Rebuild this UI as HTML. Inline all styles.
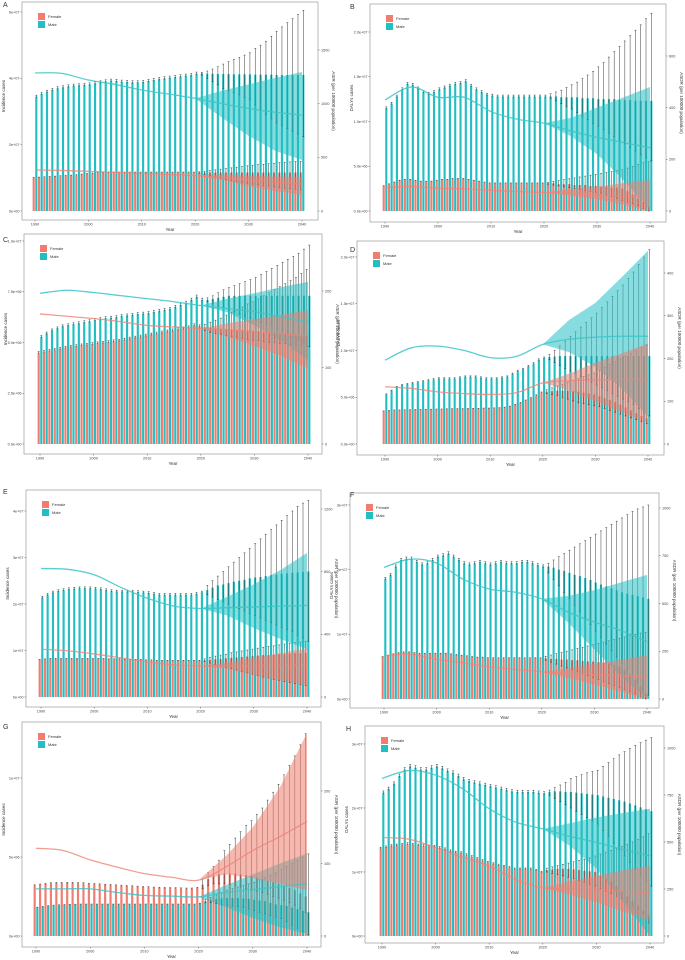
<!DOCTYPE html>
<html><head><meta charset="utf-8">
<style>
html,body{margin:0;padding:0;background:#fff;}
svg{display:block;font-family:"Liberation Sans",sans-serif;}
</style></head>
<body>
<svg id="fig" width="685" height="960" viewBox="0 0 685 960"></svg>
<script>
// ---------- categories ----------
const years = Array.from({length:51},(_, i)=>1990+i);
const xTickLabels = [1990,2000,2010,2020,2030,2040];
const asrYears = [1990,1995,2000,2005,2010,2015,2020,2025,2030,2035,2040];
const ribYears = [2025,2030,2035,2040];

// ---------- Panel A ----------
const aFem = [1.0,1.01,1.02,1.03,1.04,1.05,1.06,1.07,1.08,1.1,1.12,1.13,1.14,1.15,1.16,1.16,1.16,1.16,1.16,1.16,1.16,1.16,1.16,1.16,1.16,1.16,1.16,1.16,1.16,1.16,1.16,
 1.16,1.16,1.16,1.16,1.16,1.16,1.16,1.16,1.16,1.16,1.16,1.16,1.16,1.16,1.16,1.16,1.16,1.16,1.16,1.16];
const aMal = [3.45,3.53,3.6,3.65,3.7,3.73,3.76,3.78,3.79,3.8,3.82,3.85,3.88,3.91,3.93,3.92,3.9,3.89,3.88,3.88,3.89,3.92,3.95,3.98,4.0,4.02,4.04,4.06,4.08,4.1,4.14,
 4.15,4.14,4.14,4.13,4.13,4.13,4.12,4.12,4.12,4.12,4.11,4.11,4.11,4.11,4.1,4.1,4.1,4.1,4.1,4.1];
const aFemHi = [1.18,1.2,1.22,1.24,1.26,1.28,1.3,1.32,1.34,1.36,1.38,1.4,1.41,1.43,1.44,1.46,1.47,1.48,1.49,1.5];
const aFemLo = [1.14,1.1,1.06,1.02,0.98,0.95,0.92,0.89,0.86,0.84,0.81,0.79,0.77,0.75,0.73,0.71,0.69,0.68,0.66,0.65];
const aMalHi = [4.18,4.22,4.28,4.35,4.43,4.5,4.57,4.63,4.7,4.77,4.9,5.0,5.12,5.27,5.42,5.55,5.68,5.8,5.93,6.05];
const aMalLo = [4.1,4.0,3.9,3.8,3.7,3.63,3.56,3.5,3.42,3.35,3.2,3.05,2.9,2.78,2.65,2.57,2.48,2.4,2.32,2.24];
const aAsrF = [382,378,370,360,350,340,330,310,290,270,250];
const aAsrM = [1286,1282,1220,1180,1127,1090,1049,1000,955,920,893];
const aRibFLo = [290,230,185,150], aRibFHi = [340,330,322,317];
const aRibMLo = [870,700,560,475], aRibMHi = [1120,1180,1240,1295];

// ---------- Panel B ----------
const bFem = [0.28,0.3,0.32,0.34,0.35,0.35,0.34,0.33,0.33,0.33,0.34,0.35,0.35,0.36,0.36,0.36,0.35,0.34,0.33,0.32,0.31,0.31,0.31,0.31,0.31,0.31,0.31,0.31,0.31,0.31,0.31,
 0.31,0.31,0.3,0.3,0.3,0.29,0.29,0.29,0.28,0.28,0.27,0.27,0.26,0.26,0.25,0.22,0.18,0.14,0.1,0.05];
const bMal = [1.15,1.2,1.28,1.36,1.42,1.41,1.37,1.33,1.31,1.33,1.36,1.38,1.4,1.42,1.43,1.45,1.4,1.36,1.33,1.3,1.29,1.28,1.28,1.28,1.28,1.28,1.28,1.28,1.28,1.28,1.28,
 1.28,1.28,1.27,1.27,1.27,1.27,1.26,1.26,1.26,1.25,1.25,1.25,1.25,1.24,1.24,1.24,1.23,1.23,1.23,1.23];
const bFemHi = [0.32,0.33,0.34,0.35,0.36,0.37,0.38,0.39,0.4,0.41,0.42,0.43,0.44,0.45,0.46,0.48,0.5,0.52,0.54,0.55];
const bFemLo = [0.3,0.29,0.28,0.27,0.26,0.25,0.24,0.23,0.22,0.21,0.2,0.18,0.16,0.14,0.12,0.1,0.08,0.06,0.03,0.0];
const bMalHi = [1.31,1.33,1.35,1.38,1.41,1.44,1.48,1.52,1.56,1.61,1.66,1.72,1.78,1.84,1.9,1.96,2.02,2.08,2.15,2.21];
const bMalLo = [1.26,1.23,1.2,1.17,1.14,1.1,1.06,1.02,0.98,0.95,0.91,0.87,0.83,0.79,0.75,0.71,0.67,0.63,0.6,0.56];
const bAsrF = [90,95,88,86,80,75,72,68,62,57,50];
const bAsrM = [430,480,440,440,385,355,340,310,285,265,245];
const bRibFLo = [60,45,25,0], bRibFHi = [85,95,108,120];
const bRibMLo = [290,220,120,5], bRibMHi = [360,400,440,480];

// ---------- Panel C ----------
const cFem = [4.5,4.55,4.6,4.65,4.7,4.75,4.8,4.83,4.87,4.9,4.93,4.97,5.0,5.03,5.07,5.1,5.15,5.2,5.25,5.3,5.35,5.4,5.45,5.5,5.55,5.6,5.65,5.7,5.75,5.85,5.8,
 5.75,5.72,5.7,5.68,5.66,5.64,5.62,5.6,5.58,5.56,5.54,5.52,5.5,5.48,5.46,5.44,5.42,5.4,5.38,5.36];
const cMal = [5.28,5.45,5.6,5.7,5.8,5.85,5.9,5.95,6.0,6.05,6.1,6.15,6.2,6.22,6.25,6.3,6.33,6.36,6.4,6.42,6.45,6.5,6.55,6.6,6.65,6.75,6.85,6.95,7.1,7.25,7.1,
 7.1,7.15,7.2,7.25,7.3,7.3,7.3,7.3,7.3,7.3,7.3,7.3,7.3,7.3,7.3,7.3,7.3,7.3,7.3,7.3];
const cFemHi = [5.9,6.0,6.1,6.2,6.35,6.5,6.6,6.75,6.9,7.0,7.15,7.3,7.45,7.6,7.75,7.9,8.05,8.2,8.4,8.6];
const cFemLo = [5.6,5.5,5.45,5.4,5.35,5.3,5.25,5.2,5.15,5.1,5.1,5.05,5.0,5.0,4.95,4.95,4.9,4.9,4.85,4.8];
const cMalHi = [7.2,7.3,7.45,7.6,7.7,7.8,7.9,8.0,8.1,8.2,8.35,8.5,8.65,8.8,8.95,9.1,9.25,9.4,9.6,9.8];
const cMalLo = [7.0,6.9,6.8,6.7,6.6,6.5,6.4,6.3,6.2,6.1,6.0,5.9,5.8,5.7,5.6,5.45,5.3,5.15,5.0,4.8];
const cAsrF = [170,167,164,160,155,153,151,149,147,144,141];
const cAsrM = [197,201,198,194,190,186,181,177,173,166,160];
const cRibFLo = [140,128,115,99], cRibFHi = [158,163,169,175];
const cRibMLo = [172,155,135,110], cRibMHi = [190,197,205,212];

// ---------- Panel D ----------
const dFem = [3.5,3.55,3.6,3.6,3.62,3.63,3.65,3.66,3.67,3.68,3.7,3.7,3.72,3.73,3.74,3.75,3.76,3.77,3.78,3.8,3.8,3.82,3.85,3.9,4.0,4.2,4.4,4.65,4.9,5.2,5.5,
 5.6,5.65,5.7,5.7,5.7,5.65,5.6,5.5,5.4,5.3,5.1,4.9,4.7,4.5,4.2,3.9,3.6,3.3,3.0,2.7];
const dMal = [5.3,5.7,6.1,6.3,6.4,6.5,6.6,6.7,6.8,6.9,7.0,7.0,7.0,7.0,7.1,7.2,7.2,7.2,7.1,7.0,7.0,7.0,7.1,7.2,7.5,7.8,8.0,8.3,8.6,9.0,9.2,
 9.3,9.35,9.4,9.4,9.4,9.4,9.4,9.4,9.4,9.4,9.4,9.4,9.4,9.4,9.4,9.4,9.4,9.4,9.4,9.4];
const dFemHi = [5.8,6.0,6.2,6.4,6.6,6.8,7.0,7.2,7.4,7.6,7.9,8.2,8.5,8.8,9.1,9.4,9.7,10.0,10.3,10.6];
const dFemLo = [5.4,5.3,5.2,5.0,4.8,4.6,4.4,4.3,4.2,4.1,4.0,3.8,3.6,3.4,3.2,3.0,2.8,2.6,2.4,2.2];
const dMalHi = [9.6,10.0,10.5,11.0,11.5,12.0,12.5,13.0,13.5,14.0,14.6,15.2,15.8,16.4,17.0,17.7,18.4,19.2,20.0,20.8];
const dMalLo = [9.0,8.7,8.4,8.1,7.8,7.5,7.2,6.9,6.6,6.3,6.0,5.7,5.4,5.1,4.8,4.5,4.2,3.8,3.4,3.0];
const dAsrF = [134,130,122,118,116,120,143,148,150,151,151];
const dAsrM = [196,225,229,219,202,205,233,245,250,252,252];
const dRibFLo = [125,100,75,49], dRibFHi = [165,190,212,235];
const dRibMLo = [215,180,130,64], dRibMHi = [290,330,390,452];

// ---------- Panel E ----------
const eFem = [0.8,0.81,0.82,0.82,0.82,0.82,0.82,0.82,0.82,0.82,0.82,0.82,0.82,0.81,0.81,0.81,0.8,0.8,0.8,0.8,0.79,0.79,0.78,0.78,0.78,0.78,0.78,0.78,0.78,0.78,0.78,
 0.79,0.8,0.81,0.82,0.83,0.84,0.85,0.86,0.87,0.88,0.89,0.9,0.9,0.91,0.92,0.92,0.93,0.94,0.94,0.95];
const eMal = [2.14,2.2,2.25,2.28,2.3,2.32,2.33,2.34,2.34,2.34,2.33,2.32,2.3,2.28,2.27,2.27,2.27,2.27,2.26,2.25,2.24,2.22,2.2,2.2,2.2,2.2,2.2,2.2,2.2,2.22,2.25,
 2.3,2.35,2.4,2.42,2.45,2.48,2.5,2.52,2.55,2.57,2.58,2.6,2.62,2.63,2.65,2.66,2.67,2.68,2.69,2.7];
const eFemHi = [0.82,0.85,0.88,0.9,0.92,0.95,0.97,0.99,1.01,1.03,1.05,1.07,1.09,1.1,1.12,1.14,1.15,1.17,1.18,1.2];
const eFemLo = [0.76,0.73,0.7,0.67,0.64,0.61,0.58,0.55,0.52,0.49,0.46,0.43,0.41,0.38,0.36,0.33,0.31,0.29,0.27,0.25];
const eMalHi = [2.4,2.5,2.6,2.7,2.8,2.9,3.0,3.1,3.2,3.3,3.4,3.5,3.6,3.7,3.8,3.9,4.0,4.1,4.17,4.23];
const eMalLo = [2.2,2.15,2.1,2.05,2.0,1.95,1.9,1.85,1.8,1.75,1.7,1.65,1.6,1.55,1.5,1.45,1.4,1.33,1.27,1.2];
const eAsrF = [305,295,275,250,225,205,198,200,200,202,203];
const eAsrM = [820,815,780,700,630,580,565,570,575,580,585];
const eRibFLo = [180,140,105,75], eRibFHi = [220,250,280,310];
const eRibMLo = [520,440,370,305], eRibMHi = [640,720,810,920];

// ---------- Panel F ----------
const fFem = [0.65,0.67,0.69,0.71,0.72,0.72,0.71,0.7,0.7,0.7,0.7,0.7,0.7,0.69,0.68,0.67,0.66,0.65,0.64,0.64,0.63,0.63,0.63,0.63,0.63,0.63,0.63,0.63,0.63,0.63,0.63,
 0.63,0.62,0.62,0.61,0.61,0.6,0.6,0.59,0.58,0.58,0.57,0.56,0.55,0.53,0.5,0.45,0.38,0.3,0.2,0.1];
const fMal = [1.86,1.92,2.05,2.15,2.17,2.17,2.12,2.08,2.1,2.15,2.2,2.22,2.25,2.2,2.15,2.1,2.08,2.1,2.12,2.1,2.08,2.1,2.12,2.1,2.1,2.1,2.12,2.12,2.1,2.07,2.05,
 2.05,2.03,2.0,1.98,1.95,1.92,1.9,1.87,1.84,1.8,1.77,1.74,1.71,1.68,1.65,1.63,1.61,1.59,1.57,1.55];
const fFemHi = [0.66,0.68,0.7,0.72,0.74,0.76,0.78,0.8,0.82,0.84,0.86,0.88,0.9,0.92,0.94,0.96,0.98,1.0,1.02,1.03];
const fFemLo = [0.6,0.57,0.54,0.51,0.48,0.45,0.42,0.39,0.36,0.33,0.3,0.27,0.24,0.21,0.18,0.15,0.12,0.08,0.04,0.0];
const fMalHi = [2.1,2.15,2.2,2.25,2.3,2.35,2.4,2.45,2.5,2.55,2.6,2.65,2.7,2.75,2.8,2.85,2.9,2.94,2.97,3.0];
const fMalLo = [1.95,1.85,1.75,1.65,1.55,1.45,1.35,1.25,1.15,1.05,0.95,0.85,0.75,0.65,0.55,0.45,0.35,0.25,0.15,0.06];
const fAsrF = [226,235,208,190,168,155,142,135,128,122,116];
const fAsrM = [689,732,712,628,576,559,524,455,403,359,300];
const fRibFLo = [110,75,40,0], fRibFHi = [160,185,205,229];
const fRibMLo = [400,260,120,3], fRibMHi = [540,570,610,650];

// ---------- Panel G ----------
const gFem = [3.2,3.25,3.3,3.33,3.35,3.35,3.36,3.35,3.34,3.33,3.3,3.28,3.26,3.24,3.22,3.2,3.18,3.16,3.14,3.12,3.1,3.08,3.06,3.05,3.04,3.03,3.02,3.01,3.0,3.0,3.05,
 3.25,3.6,3.8,3.9,3.95,3.95,3.95,3.9,3.85,3.8,3.7,3.6,3.5,3.4,3.3,3.2,3.05,2.9,2.7,2.5];
const gMal = [1.8,1.85,1.9,1.93,1.95,1.97,1.98,1.99,2.0,2.0,2.0,2.0,2.0,2.0,2.0,2.0,2.0,2.0,2.0,2.0,2.0,2.0,2.0,2.0,2.0,2.0,2.0,2.0,2.0,2.0,2.05,
 2.2,2.3,2.35,2.38,2.4,2.4,2.4,2.38,2.35,2.3,2.25,2.2,2.1,2.0,1.95,1.9,1.8,1.7,1.6,1.5];
const gFemHi = [3.6,4.0,4.4,4.8,5.4,5.8,6.2,6.6,7.0,7.3,7.7,8.1,8.6,9.1,9.6,10.2,10.8,11.4,12.1,12.8];
const gFemLo = [3.0,3.2,3.3,3.3,3.3,3.25,3.2,3.1,3.0,2.95,2.85,2.75,2.65,2.5,2.4,2.25,2.1,1.95,1.75,1.5];
const gMalHi = [2.3,2.45,2.6,2.75,2.9,3.0,3.1,3.2,3.3,3.4,3.55,3.7,3.85,4.0,4.2,4.4,4.6,4.8,5.0,5.2];
const gMalLo = [2.1,2.1,2.05,2.0,1.95,1.9,1.85,1.8,1.7,1.6,1.5,1.4,1.3,1.2,1.1,0.9,0.7,0.5,0.3,0.1];
const gAsrF = [121,118,105,95,86,81,77,95,118,137,158];
const gAsrM = [65,65,65,60,56,55,54,60,64,68,72];
const gRibFLo = [85,80,72,63], gRibFHi = [110,150,205,280];
const gRibMLo = [40,25,12,3], gRibMHi = [70,85,100,114];

// ---------- Panel H ----------
const hFem = [1.37,1.39,1.41,1.42,1.43,1.44,1.43,1.42,1.41,1.4,1.4,1.38,1.36,1.33,1.31,1.3,1.27,1.24,1.21,1.18,1.15,1.13,1.11,1.09,1.07,1.05,1.05,1.05,1.05,1.03,1.0,
 1.03,1.04,1.05,1.05,1.05,1.04,1.03,1.02,1.01,1.0,0.95,0.9,0.85,0.78,0.7,0.62,0.55,0.48,0.4,0.33];
const hMal = [2.24,2.3,2.38,2.5,2.6,2.65,2.63,2.6,2.6,2.63,2.65,2.62,2.58,2.55,2.5,2.45,2.42,2.4,2.38,2.36,2.34,2.32,2.3,2.28,2.26,2.25,2.25,2.25,2.25,2.24,2.23,
 2.25,2.26,2.26,2.25,2.25,2.24,2.23,2.22,2.21,2.2,2.18,2.16,2.14,2.12,2.1,2.07,2.04,2.01,1.98,1.95];
const hFemHi = [1.06,1.08,1.1,1.12,1.14,1.16,1.18,1.2,1.22,1.25,1.28,1.31,1.34,1.37,1.4,1.43,1.47,1.51,1.55,1.6];
const hFemLo = [1.0,0.98,0.96,0.94,0.92,0.9,0.87,0.84,0.81,0.78,0.74,0.7,0.66,0.62,0.58,0.53,0.48,0.42,0.35,0.2];
const hMalHi = [2.28,2.32,2.36,2.4,2.46,2.49,2.52,2.55,2.57,2.59,2.65,2.71,2.77,2.83,2.88,2.93,2.98,3.02,3.06,3.1];
const hMalLo = [2.2,2.15,2.1,2.05,2.0,1.95,1.9,1.85,1.8,1.75,1.65,1.55,1.45,1.35,1.25,1.15,1.05,0.95,0.87,0.78];
const hAsrF = [524,515,471,420,372,300,256,250,245,238,229];
const hAsrM = [838,880,856,784,677,605,570,530,498,460,426];
const hRibFLo = [220,180,130,86], hRibFHi = [290,320,350,372];
const hRibMLo = [480,360,180,0], hRibMHi = [600,630,655,677];

// ---------- tick labels ----------
const ltA = [0,2,4,6], ltALab = ["0e+00","2e+07","4e+07","6e+07"];
const ltB = [0,0.5,1,1.5,2], ltBLab = ["0.0e+00","5.0e+06","1.0e+07","1.5e+07","2.0e+07"];
const ltC = [0,2.5,5,7.5,10], ltCLab = ["0.0e+00","2.5e+06","5.0e+06","7.5e+06","1.0e+07"];
const ltD = [0,5,10,15,20], ltDLab = ["0.0e+00","5.0e+06","1.0e+07","1.5e+07","2.0e+07"];
const ltE = [0,1,2,3,4], ltELab = ["0e+00","1e+07","2e+07","3e+07","4e+07"];
const ltF = [0,1,2,3], ltFLab = ["0e+00","1e+07","2e+07","3e+07"];
const ltG = [0,5,10], ltGLab = ["0e+00","5e+06","1e+07"];
const ltH = [0,1,2,3], ltHLab = ["0e+00","1e+07","2e+07","3e+07"];
const rtA = [0,500,1000,1500], rtB = [0,200,400,600], rtC = [0,100,200], rtD = [0,100,200,300,400];
const rtE = [0,400,800,1200], rtF = [0,250,500,750,1000], rtG = [0,100,200], rtH = [0,250,500,750,1000];

const RED = "#F07D70", CYAN = "#22BFC2";
const NS = "http://www.w3.org/2000/svg";
const svg = document.getElementById("fig");
function mk(tag, attrs, parent){ const e=document.createElementNS(NS,tag); for(const k in attrs) e.setAttribute(k, attrs[k]); parent.appendChild(e); return e; }

const panels = [
 {id:"a", letter:"A", lx:3, ly:7, fr:[22,2,318,220], x0:35, x1:302, base:211, ltTop:12, rtTop:50, lt:ltA, ltLab:ltALab, rt:rtA, ltitle:"Incidence cases", rtitle:"ASIR (per 100000 population)",
  fem:aFem, mal:aMal, femHi:aFemHi, femLo:aFemLo, malHi:aMalHi, malLo:aMalLo, asrF:aAsrF, asrM:aAsrM, rfl:aRibFLo, rfh:aRibFHi, rml:aRibMLo, rmh:aRibMHi},
 {id:"b", letter:"B", lx:350, ly:9, fr:[370,4,666,222], x0:385, x1:650, base:211, ltTop:32, rtTop:56, lt:ltB, ltLab:ltBLab, rt:rtB, ltitle:"DALYs cases", rtitle:"ASDR (per 100000 population)",
  fem:bFem, mal:bMal, femHi:bFemHi, femLo:bFemLo, malHi:bMalHi, malLo:bMalLo, asrF:bAsrF, asrM:bAsrM, rfl:bRibFLo, rfh:bRibFHi, rml:bRibMLo, rmh:bRibMHi},
 {id:"c", letter:"C", lx:3, ly:242, fr:[24,234,322,454], x0:40, x1:308, base:444, ltTop:241, rtTop:291, lt:ltC, ltLab:ltCLab, rt:rtC, ltitle:"Incidence cases", rtitle:"ASIR (per 100000 population)",
  fem:cFem, mal:cMal, femHi:cFemHi, femLo:cFemLo, malHi:cMalHi, malLo:cMalLo, asrF:cAsrF, asrM:cAsrM, rfl:cRibFLo, rfh:cRibFHi, rml:cRibMLo, rmh:cRibMHi},
 {id:"d", letter:"D", lx:350, ly:252, fr:[357,241,664,455], x0:385, x1:648, base:444, ltTop:257, rtTop:273, lt:ltD, ltLab:ltDLab, rt:rtD, ltitle:"DALYs cases", rtitle:"ASDR (per 100000 population)",
  fem:dFem, mal:dMal, femHi:dFemHi, femLo:dFemLo, malHi:dMalHi, malLo:dMalLo, asrF:dAsrF, asrM:dAsrM, rfl:dRibFLo, rfh:dRibFHi, rml:dRibMLo, rmh:dRibMHi},
 {id:"e", letter:"E", lx:3, ly:494, fr:[26,490,321,707], x0:41, x1:307, base:697, ltTop:511, rtTop:509, lt:ltE, ltLab:ltELab, rt:rtE, ltitle:"Incidence cases", rtitle:"ASIR (per 100000 population)",
  fem:eFem, mal:eMal, femHi:eFemHi, femLo:eFemLo, malHi:eMalHi, malLo:eMalLo, asrF:eAsrF, asrM:eAsrM, rfl:eRibFLo, rfh:eRibFHi, rml:eRibMLo, rmh:eRibMHi},
 {id:"f", letter:"F", lx:350, ly:497, fr:[350,493,659,708], x0:384, x1:647, base:699, ltTop:505, rtTop:508, lt:ltF, ltLab:ltFLab, rt:rtF, ltitle:"DALYs cases", rtitle:"ASDR (per 100000 population)",
  fem:fFem, mal:fMal, femHi:fFemHi, femLo:fFemLo, malHi:fMalHi, malLo:fMalLo, asrF:fAsrF, asrM:fAsrM, rfl:fRibFLo, rfh:fRibFHi, rml:fRibMLo, rmh:fRibMHi},
 {id:"g", letter:"G", lx:3, ly:729, fr:[22,722,321,947], x0:36, x1:307, base:936, ltTop:778, rtTop:791, lt:ltG, ltLab:ltGLab, rt:rtG, ltitle:"Incidence cases", rtitle:"ASIR (per 100000 population)",
  fem:gFem, mal:gMal, femHi:gFemHi, femLo:gFemLo, malHi:gMalHi, malLo:gMalLo, asrF:gAsrF, asrM:gAsrM, rfl:gRibFLo, rfh:gRibFHi, rml:gRibMLo, rmh:gRibMHi},
 {id:"h", letter:"H", lx:346, ly:731, fr:[365,726,664,943], x0:382, x1:650, base:936, ltTop:744, rtTop:748, lt:ltH, ltLab:ltHLab, rt:rtH, ltitle:"DALYs cases", rtitle:"ASDR (per 100000 population)",
  fem:hFem, mal:hMal, femHi:hFemHi, femLo:hFemLo, malHi:hMalHi, malLo:hMalLo, asrF:hAsrF, asrM:hAsrM, rfl:hRibFLo, rfh:hRibFHi, rml:hRibMLo, rmh:hRibMHi}
];

function smoothPath(pts){
  let d = "M"+pts[0][0].toFixed(2)+","+pts[0][1].toFixed(2);
  for(let i=0;i<pts.length-1;i++){
    const p0=pts[Math.max(0,i-1)], p1=pts[i], p2=pts[i+1], p3=pts[Math.min(pts.length-1,i+2)];
    const c1=[p1[0]+(p2[0]-p0[0])/6, p1[1]+(p2[1]-p0[1])/6];
    const c2=[p2[0]-(p3[0]-p1[0])/6, p2[1]-(p3[1]-p1[1])/6];
    d += "C"+c1[0].toFixed(2)+","+c1[1].toFixed(2)+" "+c2[0].toFixed(2)+","+c2[1].toFixed(2)+" "+p2[0].toFixed(2)+","+p2[1].toFixed(2);
  }
  return d;
}

function drawPanel(p){
  const g = mk("g",{},svg);
  
  
  const [fx0,fy0,fx1,fy1] = p.fr;
  const x = yr => p.x0 + (yr-1990)*(p.x1-p.x0)/50;
  const lMax = p.lt[p.lt.length-1], rMax = p.rt[p.rt.length-1];
  const yl = v => p.base - v*(p.base-p.ltTop)/lMax;
  const yr = v => p.base - v*(p.base-p.rtTop)/rMax;
  const step = (p.x1-p.x0)/50, bw = step*0.4;

  const letter = mk("text",{x:p.lx,y:p.ly,"font-size":7,fill:"#333"},g);
  letter.textContent = p.letter;
  
  

  const frame = mk("rect",{x:fx0,y:fy0,width:fx1-fx0,height:fy1-fy0,fill:"none",stroke:"#9a9a9a","stroke-width":0.7},g);
  
  

  // bars
  const bars = mk("g",{},g);
  
  
  for(let i=0;i<years.length;i++){
    const c = x(years[i]);
    const fb = mk("rect",{x:c-bw-0.25,y:yl(p.fem[i]),width:bw,height:Math.max(0,p.base-yl(p.fem[i])),fill:RED},bars);
    
    
    const mb = mk("rect",{x:c+0.25,y:yl(p.mal[i]),width:bw,height:Math.max(0,p.base-yl(p.mal[i])),fill:CYAN},bars);
    
    
  }
  // error bars
  const errs = mk("g",{stroke:"#2b2b2b","stroke-width":0.55,"stroke-opacity":0.85},g);
  
  
  for(let i=0;i<years.length;i++){
    const c = x(years[i]);
    const sets = [[c-bw/2-0.25, p.fem[i], i>=31?p.femHi[i-31]:p.fem[i]*1.012, i>=31?p.femLo[i-31]:p.fem[i]*0.99],
                  [c+bw/2+0.25, p.mal[i], i>=31?p.malHi[i-31]:p.mal[i]*1.012, i>=31?p.malLo[i-31]:p.mal[i]*0.99]];
    for(const [cx,v,hi,lo] of sets){
      mk("line",{x1:cx,x2:cx,y1:yl(lo),y2:yl(hi)},errs);
      mk("line",{x1:cx-bw*0.45,x2:cx+bw*0.45,y1:yl(hi),y2:yl(hi)},errs);
      if(i>=31) mk("line",{x1:cx-bw*0.45,x2:cx+bw*0.45,y1:yl(lo),y2:yl(lo)},errs);
    }
  }
  // ribbons
  const iStart = asrYears.indexOf(2020);
  function ribbon(lo,hi,startVal,color,name){
    let pts = [[x(2020),yr(startVal)]];
    for(let k=0;k<ribYears.length;k++) pts.push([x(ribYears[k]),yr(hi[k])]);
    for(let k=ribYears.length-1;k>=0;k--) pts.push([x(ribYears[k]),yr(lo[k])]);
    const r = mk("polygon",{points:pts.map(q=>q[0].toFixed(2)+","+q[1].toFixed(2)).join(" "),fill:color,"fill-opacity":0.55},g);
    
    
  }
  ribbon(p.rml,p.rmh,p.asrM[iStart],CYAN,"male-ribbon");
  ribbon(p.rfl,p.rfh,p.asrF[iStart],RED,"female-ribbon");
  // ASR lines
  const lf = mk("path",{d:smoothPath(asrYears.map((yy,k)=>[x(yy),yr(p.asrF[k])])),fill:"none",stroke:"#EE8578","stroke-width":1.3,"stroke-opacity":0.8},g);
  
  
  const lm = mk("path",{d:smoothPath(asrYears.map((yy,k)=>[x(yy),yr(p.asrM[k])])),fill:"none",stroke:"#3CC6C8","stroke-width":1.3,"stroke-opacity":0.85},g);
  
  

  // left axis
  const la = mk("g",{"font-size":3.8,fill:"#444"},g);
  
  
  p.lt.forEach((v,k)=>{
    mk("line",{x1:fx0-1.5,x2:fx0,y1:yl(v),y2:yl(v),stroke:"#555","stroke-width":0.5},la);
    const t = mk("text",{x:fx0-2.5,y:yl(v)+1.3,"text-anchor":"end"},la);
    t.textContent = p.ltLab[k];
    
    
  });
  const lt = mk("text",{x:0,y:0,"font-size":4.5,fill:"#333","text-anchor":"middle",transform:`translate(${fx0-17},${(fy0+fy1)/2-15}) rotate(-90)`},g);
  lt.textContent = p.ltitle;
  
  
  // right axis
  const ra = mk("g",{"font-size":3.8,fill:"#444"},g);
  
  
  p.rt.forEach(v=>{
    mk("line",{x1:fx1,x2:fx1+1.5,y1:yr(v),y2:yr(v),stroke:"#555","stroke-width":0.5},ra);
    const t = mk("text",{x:fx1+3,y:yr(v)+1.3},ra);
    t.textContent = v;
    
    
  });
  const rtt = mk("text",{x:0,y:0,"font-size":4.5,fill:"#333","text-anchor":"middle",transform:`translate(${fx1+14},${(fy0+fy1)/2-10}) rotate(90)`},g);
  rtt.textContent = p.rtitle;
  
  
  // x axis
  const xa = mk("g",{"font-size":3.8,fill:"#444","text-anchor":"middle"},g);
  
  
  xTickLabels.forEach(v=>{
    mk("line",{x1:x(v),x2:x(v),y1:fy1,y2:fy1+1.5,stroke:"#555","stroke-width":0.5},xa);
    const t = mk("text",{x:x(v),y:fy1+5.5},xa);
    t.textContent = v;
    
    
  });
  const xt = mk("text",{x:(fx0+fx1)/2,y:fy1+11,"font-size":4.5,fill:"#333","text-anchor":"middle"},g);
  xt.textContent = "Year";
  
  
  // legend
  const lg = mk("g",{"font-size":4,fill:"#333"},g);
  
  
  const le1 = mk("rect",{x:fx0+16,y:fy0+11,width:7,height:7,fill:RED},lg);
  
  
  const lt1 = mk("text",{x:fx0+26,y:fy0+16},lg);
  lt1.textContent = "Female";
  
  
  const le2 = mk("rect",{x:fx0+16,y:fy0+19,width:7,height:7,fill:CYAN},lg);
  
  
  const lt2 = mk("text",{x:fx0+26,y:fy0+24},lg);
  lt2.textContent = "Male";
  
  
}
panels.forEach(drawPanel);
</script>
</body></html>
